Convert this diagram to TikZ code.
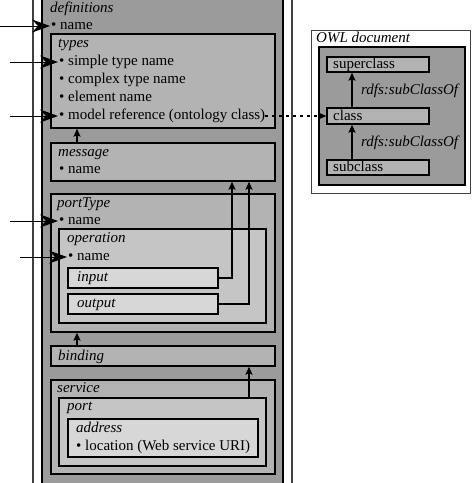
\documentclass[tikz,border=0pt]{standalone}
\usepackage{fontspec}
\setmainfont{Liberation Serif}
\usetikzlibrary{positioning,arrows.meta,fit}
\definecolor{shadeA}{HTML}{9B9B9B}
\definecolor{shadeB}{HTML}{B3B3B3}
\definecolor{shadeC}{HTML}{C5C5C5}
\definecolor{shadeD}{HTML}{D7D7D7}

\begin{document}
\begin{tikzpicture}[x=1pt,y=-1pt,font=\fontsize{15}{17}\selectfont,
  panel/.style={draw=black,line width=1.4pt,inner sep=0pt,rectangle},
  ttl/.style={font=\fontsize{15}{17}\selectfont\itshape,anchor=west,
    inner sep=0pt,text height=10pt,text depth=2.5pt},
  item/.style={anchor=west,inner sep=0pt,text height=10pt,text depth=2.5pt},
  feed/.style={line width=0.9pt,-{Stealth[length=18pt,width=13pt,inset=6pt]}},
  link/.style={line width=2.6pt,-{Stealth[length=8pt,width=7pt,inset=1.5pt]}},
  ref/.style={line width=2.4pt,dash pattern=on 2.4pt off 4.6pt,
    -{Stealth[length=8pt,width=7pt,inset=1.5pt]}}]
  \def\panel#1#2#3#4#5#6{%
    \node[panel,fill=#6,fit={(#2,#3) (#4,#5)}] (#1) {};}

  \useasboundingbox (0,0) rectangle (474,483);

  % WSDL side
  \node[panel,draw=black!75,line width=1.2pt,fill=white,
        fit={(33,-8) (292,492)}] (wsdl) {};
  \panel{defs}{42}{-8}{283}{492}{shadeA}
  \panel{types}{51}{34}{275}{128}{shadeB}
  \panel{msg}{51}{143}{275}{181}{shadeB}
  \panel{ptype}{51}{194}{275}{332}{shadeB}
  \panel{oper}{59}{229}{266}{323}{shadeC}
  \panel{input}{68}{268}{218}{288}{shadeD}
  \panel{output}{68}{294}{218}{314}{shadeD}
  \panel{binding}{51}{346}{275}{366}{shadeB}
  \panel{service}{51}{380}{275}{474}{shadeB}
  \panel{port}{59}{398}{266}{466}{shadeC}
  \panel{address}{68}{419}{258}{457}{shadeD}

  \node[ttl] (defs-t) at (50,9) {definitions};
  \node[item] (defs-name) at (51,26) {• name};
  \node[ttl] (types-t) at (58,44) {types};
  \node[item] (t1) at (59,62) {• simple type name};
  \node[item] (t2) at (59,80) {• complex type name};
  \node[item] (t3) at (59,98) {• element name};
  \node[item] (t4) at (59,116) {• model reference (ontology class)};
  \node[ttl] (msg-t) at (58,153) {message};
  \node[item] (msg-name) at (59,170) {• name};
  \node[ttl] (ptype-t) at (57,204) {portType};
  \node[item] (ptype-name) at (59,221) {• name};
  \node[ttl] (oper-t) at (67,239) {operation};
  \node[item] (oper-name) at (68,257) {• name};
  \node[ttl] (input-t) at (77,278) {input};
  \node[ttl] (output-t) at (77,304) {output};
  \node[ttl] (binding-t) at (58,357) {binding};
  \node[ttl] (service-t) at (57,389) {service};
  \node[ttl] (port-t) at (67,407) {port};
  \node[ttl] (address-t) at (76,429) {address};
  \node[item] (loc) at (76,447) {• location (Web service URI)};

  % OWL side
  \node[panel,draw=black!75,line width=1pt,fill=white,
        fit={(311,30) (470,193)}] (owl) {};
  \panel{owlin}{319}{47}{465}{185}{shadeA}
  \panel{super}{327}{57}{429}{72}{shadeB}
  \panel{class}{327}{108}{429}{124}{shadeB}
  \panel{sub}{327}{160}{429}{175}{shadeB}
  \node[ttl] (owl-t) at (316,39) {OWL document};
  \node[item] (super-t) at (333,65) {superclass};
  \node[item] (class-t) at (333,117) {class};
  \node[item] (sub-t) at (333,168) {subclass};
  \node[ttl] (rdfs1) at (361,91) {rdfs:subClassOf};
  \node[ttl] (rdfs2) at (361,143) {rdfs:subClassOf};

  % columns of the vertical links
  \coordinate (colL) at (77,0);
  \coordinate (colA) at (232,0);
  \coordinate (colB) at (249,0);
  \coordinate (colO) at (352,0);

  \foreach \n/\d in {defs-name/51,t1/49,t4/49,ptype-name/49,oper-name/48}
    \draw[feed] ([xshift={-\d pt}]\n.west) -- ([xshift=-1pt]\n.west);

  \draw[link] (msg.north -| colL) -- (types.south -| colL);
  \draw[link] (binding.north -| colL) -- (ptype.south -| colL);
  \draw[link] (input.east) -| (msg.south -| colA);
  \draw[link] (output.east) -| (msg.south -| colB);
  \draw[link] (port.north -| colB) -- (binding.south -| colB);
  \draw[link] (class.north -| colO) -- (super.south -| colO);
  \draw[link] (sub.north -| colO) -- (class.south -| colO);
  \draw[ref] (t4.east) -- (t4.east -| class.west);
\end{tikzpicture}
\end{document}
